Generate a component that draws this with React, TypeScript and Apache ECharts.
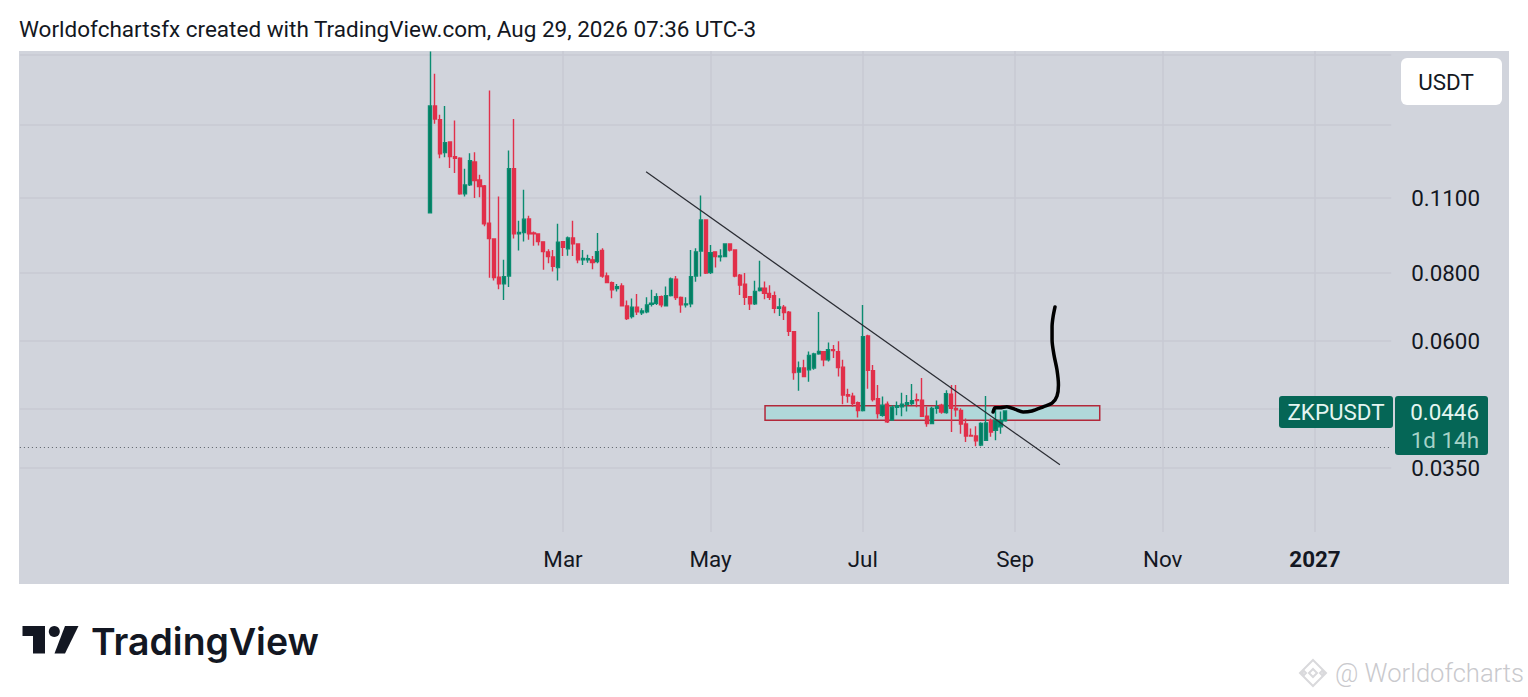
import React, { useEffect, useRef } from "react";
import * as echarts from "echarts";

const FIRST_SLOT = "2025-07-24";
const SLOT_COUNT = 279;
const FIRST_CANDLE_SLOT = 83;

const opens = [
  .1033,.1624,.1531,.1333,.1394,.131,.1301,.1119,.1162,.128,.1187,.1157,.0988,.0924,.0786,.0764,.079,.1244,.0945,.095,
  .1006,.0948,.0944,.0913,.0875,.0856,.0819,.0914,.0886,.0928,.0905,.0846,.0846,.0846,.084,.088,.079,.0768,.0749,.0757,
  .0696,.0665,.0692,.0676,.0679,.0701,.0704,.0724,.0696,.0727,.0779,.0721,.0699,.0702,.079,.0878,.1002,.0802,.0875,.0857,
  .0858,.0905,.0882,.0793,.0763,.0724,.0702,.0743,.075,.0734,.0727,.0689,.0692,.0678,.0624,.0526,.0535,.0531,.0535,.0568,
  .0573,.0554,.0578,.0573,.0537,.0478,.0475,.0462,.0447,.0613,.0529,.047,.0438,.0459,.0429,.0453,.0454,.0459,.046,.0468,
  .0467,.0436,.0423,.0451,.0457,.0443,.0479,.0451,.0447,.0422,.0402,.0401,.0386,.0394,.0428,.0411,.0417,.0428,
];
const closes = [
  .1624,.1536,.1326,.139,.131,.1301,.1119,.1162,.1287,.1184,.1154,.0986,.0926,.0785,.0764,.0788,.1244,.0945,.095,.1005,
  .0945,.0945,.0914,.0876,.0858,.0823,.0912,.0892,.0928,.0905,.0846,.0851,.085,.0836,.0876,.079,.0768,.0745,.0755,.0696,
  .066,.0692,.0679,.0681,.0699,.0704,.0724,.0699,.0727,.078,.0721,.0699,.0702,.0788,.0875,.1002,.08,.0872,.0858,.086,
  .0905,.0882,.079,.076,.0722,.0702,.074,.075,.0734,.0722,.0689,.0693,.0677,.0625,.0525,.0535,.0516,.0564,.0568,.0574,
  .0554,.0578,.0576,.0536,.0477,.0475,.046,.0447,.0611,.053,.0468,.0441,.0457,.0426,.0453,.0456,.0459,.0462,.0466,.0466,
  .0436,.0423,.0451,.0454,.0444,.048,.0451,.0448,.0422,.0401,.0401,.0393,.0423,.0424,.0408,.0429,.0428,.0446,
];
const lows = [
  .1032,.1505,.1301,.1307,.1248,.1222,.1115,.1106,.1157,.1099,.1103,.0975,.0784,.0775,.0747,.0714,.0754,.0926,.088,.0914,
  .0921,.0898,.0899,.0811,.0834,.0805,.0775,.086,.0861,.086,.0834,.0828,.0836,.0813,.0834,.0784,.0766,.0719,.074,.0694,
  .0656,.066,.067,.067,.0675,.0694,.0699,.0692,.0694,.0724,.0714,.0676,.0691,.0692,.0771,.0788,.0797,.0797,.0819,.084,
  .0856,.0876,.0786,.0729,.0699,.0684,.0699,.074,.0716,.0714,.0675,.0667,.0656,.0613,.0509,.0486,.0515,.0505,.0531,.0566,
  .0539,.055,.0558,.0516,.0459,.0462,.0454,.0434,.0445,.049,.0464,.0432,.0435,.0424,.0428,.0438,.0436,.0445,.0457,.0453,
  .0435,.0417,.0422,.0441,.0441,.0441,.0408,.0435,.0405,.0391,.04,.0384,.0384,.0393,.04,.0394,.0405,.0426,
];
const highs = [
  .2045,.1861,.1564,.1624,.1396,.1526,.1307,.1244,.1329,.1335,.1213,.1162,.1733,.0926,.1106,.0846,.1344,.1537,.0998,.1138,
  .102,.0954,.0945,.0914,.0885,.0882,.0986,.0916,.0934,.0998,.0907,.0882,.0864,.086,.0948,.0889,.0802,.0772,.0764,.0766,
  .0712,.0718,.0732,.0689,.0722,.0745,.0734,.0727,.0756,.0785,.079,.0724,.0722,.0882,.0889,.1111,.1004,.0901,.0877,.0885,
  .0908,.0908,.0885,.0797,.08,.0726,.0774,.0843,.0772,.076,.074,.0719,.0699,.0681,.0625,.055,.0554,.0574,.0571,.0678,
  .0574,.0596,.059,.0599,.0554,.049,.0482,.0464,.0699,.0616,.0542,.0498,.0474,.0464,.0457,.0464,.0482,.0477,.05,.048,
  .0513,.0454,.0454,.0466,.046,.0487,.0498,.0498,.0451,.0432,.0414,.0418,.0425,.0475,.0432,.0454,.0445,.0447,
];

const priceMin = 0.02671;
const priceMax = 0.2049;
const priceGrid = [0.2015, 0.15, 0.11, 0.08, 0.06, 0.045, 0.035];
const priceLabels = ["", "", "0.1100", "0.0800", "0.0600", "", "0.0350"];
const dottedPrice = 0.0383;

const timeTickDates = ["2026-03-01", "2026-04-30", "2026-07-01", "2026-09-01", "2026-10-31", "2027-01-01"];
const timeTickLabels = ["Mar", "May", "Jul", "Sep", "Nov", "2027"];

const trendSlots = [126.9, 211.1];
const trendPrices = [0.1228, 0.0355];

const zoneSlots = [151.1, 219.2];
const zonePrices = [0.0456, 0.0429];

const sketchSlots = [197.5, 197.9, 198.9, 200.3, 202, 203.6, 205.4, 207.7, 209.5, 210.5, 210.8, 210.5, 209.9, 209.5, 209.5, 209.7, 210.1];
const sketchPrices = [.0444, .0452, .0452, .0454, .0449, .0444, .0446, .0454, .0461, .0475, .0498, .0531, .0565, .0603, .0637, .0664, .0693];

const titleText = "Worldofchartsfx created with TradingView.com, Aug 29, 2026 07:36 UTC-3";
const symbolText = "ZKPUSDT";
const lastPriceText = "0.0446";
const countdownText = "1d 14h";
const currencyText = "USDT";
const brandText = "TradingView";
const watermarkText = "@ Worldofcharts";

const FONT = "Roboto";
const INK = "#131722";
const GRID = "#c7cad3";
const LABEL_SIZE = 22.4;

function buildCategories(): string[] {
  const start = Date.parse(FIRST_SLOT + "T00:00:00Z");
  const out: string[] = [];
  for (let i = 0; i < SLOT_COUNT; i++) {
    out.push(new Date(start + i * 2 * 86400000).toISOString().slice(0, 10));
  }
  return out;
}

export default function App() {
  const ref = useRef<HTMLDivElement>(null);
  useEffect(() => {
    document.body.style.margin = "0";
    const chart = echarts.init(ref.current!, null, { renderer: "svg" });
    const categories = buildCategories();
    const candleRows = opens.map((o, i) => [categories[FIRST_CANDLE_SLOT + i], o, closes[i], lows[i], highs[i]]);

    const gridLines: any[] = priceGrid.map((p, i) => ({
      name: priceLabels[i],
      yAxis: p,
      label: priceLabels[i]
        ? { show: true, position: "end", distance: 20, formatter: "{b}", color: INK, fontSize: LABEL_SIZE, fontFamily: FONT }
        : { show: false },
    }));
    gridLines.push({
      yAxis: dottedPrice,
      label: { show: false },
      lineStyle: { color: "#5b6068", type: [1, 3], width: 1 },
    });
    timeTickDates.forEach((d) => {
      gridLines.push({ xAxis: categories.indexOf(d), label: { show: false } });
    });

    const box = (x: number, y: number, w: number, h: number, fill: string, r = 0, z = 15) => ({
      type: "rect", shape: { x, y, width: w, height: h, r }, style: { fill }, z, silent: true,
    });
    const txt = (x: number, y: number, text: string, fill: string, fontSize: number, align = "left", fontWeight: any = 400, family = FONT) => ({
      type: "text", x, y, z: 20, silent: true,
      style: { text, fill, fontSize, fontFamily: family, fontWeight, align, verticalAlign: "middle" },
    });
    const diamond = (cx: number, cy: number, r: number) => ({
      type: "polygon", z: 20, silent: true,
      shape: { points: [[cx, cy - r], [cx + r, cy], [cx, cy + r], [cx - r, cy]] },
      style: { fill: "none", stroke: "#d9d9dc", lineWidth: 2 },
    });

    chart.setOption({
      animation: false,
      backgroundColor: "#ffffff",
      tooltip: { show: false },
      graphic: {
        elements: [
          box(19, 51, 1490, 533, "#d1d4dc", 0, 0),
          txt(19, 29, titleText, INK, 22.5),
          box(1401, 58, 101, 47, "#ffffff", 6),
          txt(1446, 81.5, currencyText, INK, LABEL_SIZE, "center"),
          box(1279, 396, 114, 32, "#056656", 3),
          txt(1336, 412, symbolText, "#e4f5f1", LABEL_SIZE, "center"),
          box(1395, 396, 93, 59, "#056656", 3),
          txt(1479, 412, lastPriceText, "#e4f5f1", LABEL_SIZE, "right"),
          txt(1479, 440, countdownText, "#a5d2c8", LABEL_SIZE, "right"),
          box(22.5, 626, 22.5, 10, "#131722"),
          box(33, 626, 12, 27.5, "#131722"),
          { type: "circle", z: 20, silent: true, shape: { cx: 54.3, cy: 631.5, r: 5.5 }, style: { fill: "#131722" } },
          {
            type: "polygon", z: 20, silent: true,
            shape: { points: [[65, 626], [78.5, 626], [65, 653.5], [54.5, 653.5]] },
            style: { fill: "#131722" },
          },
          txt(91, 641, brandText, "#131722", 37.4, "left", 600, "Inter"),
          diamond(1313, 673, 13),
          diamond(1313, 673, 4),
          diamond(1304, 673, 2),
          diamond(1322, 673, 2),
          txt(1335, 673, watermarkText, "#c9c9cd", 25.6, "left", 300),
        ],
      },
      grid: { left: 19.9, top: 51, width: 1371.3, height: 481, containLabel: false },
      xAxis: [
        {
          type: "category",
          data: categories,
          boundaryGap: true,
          axisLine: { show: false },
          axisTick: { show: false },
          splitLine: { show: false },
          axisLabel: {
            show: true,
            margin: 16,
            color: INK,
            fontSize: LABEL_SIZE,
            fontFamily: FONT,
            interval: (_i: number, v: string) => timeTickDates.includes(v),
            formatter: (v: string) => {
              const label = timeTickLabels[timeTickDates.indexOf(v)] ?? "";
              return /^\d+$/.test(label) ? `{year|${label}}` : label;
            },
            rich: { year: { fontWeight: 700, fontSize: LABEL_SIZE, fontFamily: FONT, color: INK } },
          },
        },
        { type: "value", min: -0.5, max: SLOT_COUNT - 0.5, show: false, splitLine: { show: false } },
      ],
      yAxis: {
        type: "log",
        logBase: 10,
        position: "right",
        min: priceMin,
        max: priceMax,
        axisLine: { show: false },
        axisTick: { show: false },
        axisLabel: { show: false },
        splitLine: { show: false },
        minorSplitLine: { show: false },
      },
      series: [
        {
          type: "line",
          name: "grid",
          data: [],
          xAxisIndex: 0,
          z: 1,
          silent: true,
          markLine: {
            silent: true,
            symbol: "none",
            animation: false,
            precision: 5,
            z: 1,
            lineStyle: { color: GRID, type: "solid", width: 1.5 },
            data: gridLines,
          },
        },
        {
          type: "line",
          name: "zone",
          data: [],
          xAxisIndex: 1,
          z: 2,
          silent: true,
          markArea: {
            silent: true,
            animation: false,
            z: 2,
            itemStyle: { color: "#b0d8da", borderColor: "#b3283a", borderWidth: 1.5 },
            data: [[
              { xAxis: zoneSlots[0], yAxis: zonePrices[0] },
              { xAxis: zoneSlots[1], yAxis: zonePrices[1] },
            ]],
          },
        },
        {
          type: "candlestick",
          name: "ZKPUSDT",
          xAxisIndex: 0,
          z: 3,
          silent: true,
          barWidth: 3.6,
          encode: { x: 0, y: [1, 2, 3, 4] },
          itemStyle: {
            color: "#067a60",
            color0: "#e1304a",
            borderColor: "#0a8c70",
            borderColor0: "#e1304a",
            borderWidth: 1.4,
          },
          data: candleRows,
        },
        {
          type: "line",
          name: "trend",
          xAxisIndex: 1,
          z: 4,
          silent: true,
          showSymbol: false,
          symbol: "none",
          lineStyle: { color: "#2a2c33", width: 1.2 },
          data: trendSlots.map((s, i) => [s, trendPrices[i]]),
        },
        {
          type: "line",
          name: "sketch",
          xAxisIndex: 1,
          z: 5,
          silent: true,
          showSymbol: false,
          symbol: "none",
          smooth: 0.3,
          lineStyle: { color: "#000000", width: 3.5, cap: "round", join: "round" },
          data: sketchSlots.map((s, i) => [s, sketchPrices[i]]),
        },
      ],
    });
    return () => chart.dispose();
  }, []);
  return <div ref={ref} style={{ position: "absolute", left: 0, top: 0, width: 1528, height: 697 }} />;
}
